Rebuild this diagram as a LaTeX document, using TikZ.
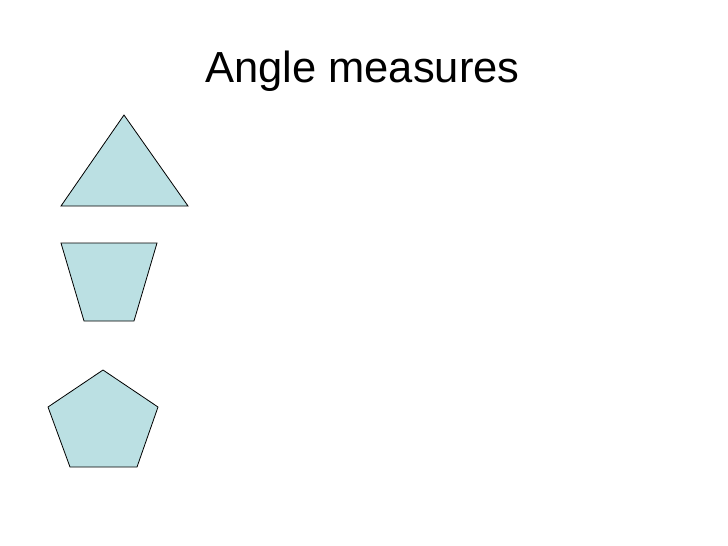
\documentclass[tikz,border=0pt]{standalone}
\usepackage{fontspec}
\setmainfont{Liberation Sans}
\usetikzlibrary{positioning}
\definecolor{shapefill}{RGB}{187,224,227}
\tikzstyle{polyshape} = [draw=black, fill=shapefill, line width=0.8pt, line join=miter]
\tikzstyle{heading} = [font=\fontsize{43.5}{50}\selectfont, anchor=base west, inner sep=0pt]

\begin{document}
\begin{tikzpicture}[x=1pt,y=-1pt]
\useasboundingbox (0,0) rectangle (728,546);
\node[heading] (title) at (205,82) {Angle measures};

% triangle
\draw[polyshape] (124,115) -- (188,206) -- (61,206) -- cycle;

% trapezoid
\draw[polyshape] (61,243) -- (157,243) -- (134,321) -- (84,321) -- cycle;

% pentagon
\draw[polyshape] (103,370) -- (158,407) -- (137,467) -- (70,467) -- (48,407) -- cycle;

\end{tikzpicture}
\end{document}
